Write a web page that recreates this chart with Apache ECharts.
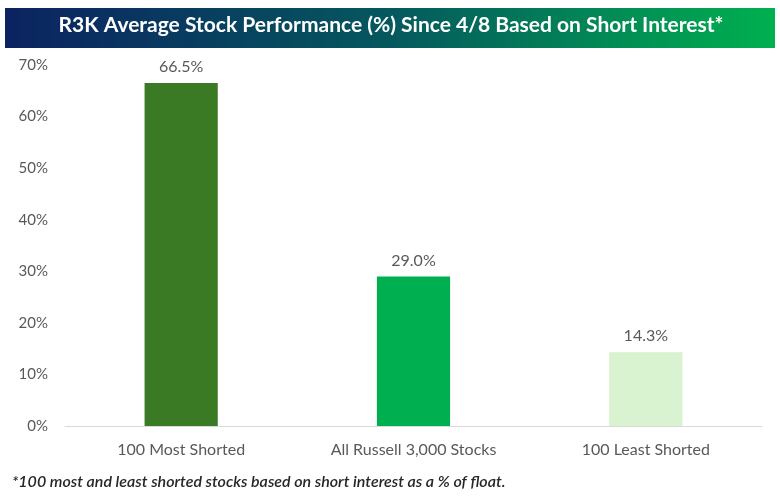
<!DOCTYPE html>
<html>
<head>
<meta charset="utf-8">
<script src="https://cdn.jsdelivr.net/npm/echarts@6/dist/echarts.min.js"></script>
<style>
  html, body { margin: 0; padding: 0; background: #fff; }
  #chart { width: 780px; height: 500px; }
</style>
</head>
<body>
<div id="chart"></div>
<script>
const categories = ["100 Most Shorted", "All Russell 3,000 Stocks", "100 Least Shorted"]
const performance = [66.5, 29.0, 14.3]
const barColors = ["#3b7a25", "#00b050", "#d9f2d0"]
const yTicks = [0, 10, 20, 30, 40, 50, 60, 70]

const font = "Lato, 'Open Sans', sans-serif"

const chart = echarts.init(document.getElementById("chart"))

chart.setOption({
  animation: false,
  grid: { left: 65, right: 18, top: 65, bottom: 74 },
  graphic: [
    {
      type: "rect",
      shape: { x: 5, y: 8, width: 770, height: 40 },
      style: {
        fill: new echarts.graphic.LinearGradient(0, 0, 1, 0, [
          { offset: 0, color: "#0b2361" },
          { offset: 0.5, color: "#05585e" },
          { offset: 1, color: "#00b04f" },
        ]),
      },
    },
    {
      type: "text",
      x: 391,
      y: 15,
      style: {
        text: "R3K Average Stock Performance (%) Since 4/8 Based on Short Interest*",
        fill: "#fff",
        align: "center",
        font: "bold 21px " + font,
      },
    },
    {
      type: "text",
      left: 12,
      top: 474,
      style: {
        text: "*100 most and least shorted stocks based on short interest as a % of float.",
        fill: "#262626",
        font: "italic 600 16px " + font,
      },
    },
  ],
  xAxis: {
    type: "category",
    data: categories,
    axisLine: { lineStyle: { color: "#d9d9d9", width: 1 } },
    axisTick: { show: false },
    axisLabel: { color: "#595959", fontSize: 16, fontFamily: font, margin: 16 },
  },
  yAxis: {
    type: "value",
    min: yTicks[0],
    max: yTicks[yTicks.length - 1],
    interval: 10,
    splitLine: { show: false },
    axisLine: { show: false },
    axisTick: { show: false },
    axisLabel: {
      color: "#595959",
      fontSize: 15,
      fontFamily: font,
      margin: 17,
      formatter: (v) => v + "%",
    },
  },
  series: [
    {
      type: "bar",
      barWidth: "31.5%",
      data: performance.map((v, i) => ({ value: v, itemStyle: { color: barColors[i] } })),
      label: {
        show: true,
        position: "top",
        distance: 8,
        color: "#595959",
        fontSize: 16,
        fontFamily: font,
        formatter: (p) => p.value.toFixed(1) + "%",
      },
    },
  ],
})
</script>
</body>
</html>
